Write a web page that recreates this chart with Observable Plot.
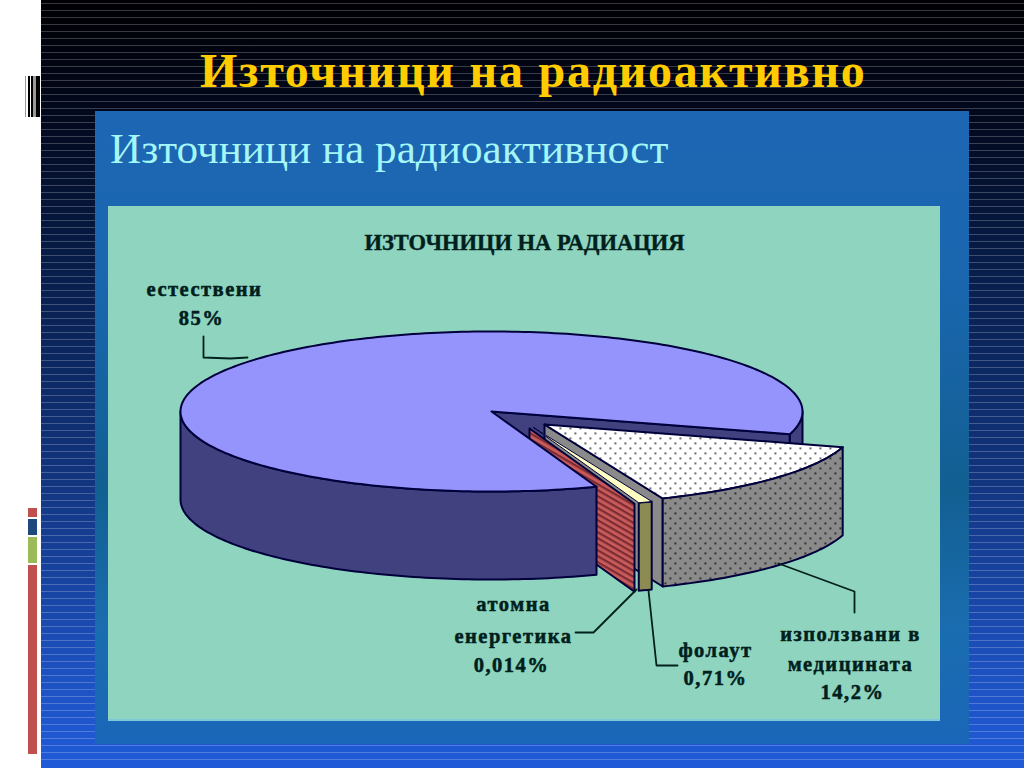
<!DOCTYPE html>
<html lang="bg"><head><meta charset="utf-8">
<script src="https://cdn.jsdelivr.net/npm/d3@7"></script>
<script src="https://cdn.jsdelivr.net/npm/@observablehq/plot@0.6"></script>
<style>
html,body{margin:0;padding:0;background:#fff;overflow:hidden}
#page{position:relative;width:1024px;height:768px;overflow:hidden;background:#fff;font-family:"Liberation Serif",serif}
#page>div{position:absolute}
#bg{left:41px;top:0;width:983px;height:768px;background:linear-gradient(#000003 0,#02081c 110px,#071c48 260px,#12357f 480px,#1d52c2 680px,#205ad8 768px)}
#stripes{left:41px;top:0;width:983px;height:768px;background:repeating-linear-gradient(to bottom,rgba(255,255,255,0) 0,rgba(255,255,255,0) 6px,rgba(255,255,255,.22) 6px,rgba(255,255,255,.22) 7px);background-position:0 -3px}
#panel{left:95px;top:111px;width:874px;height:633px;background:linear-gradient(#1d66b4 0,#1a66ae 180px,#125f92 380px,#1a6db0 520px,#1a66b8 633px)}
#inner{left:108px;top:206px;width:832px;height:513px;background:#8fd4bf;border-bottom:2px solid #7fc8dc}
#t1{left:200px;top:41px;font-weight:bold;font-size:48px;line-height:60px;letter-spacing:1.75px;color:#ffcc00;white-space:nowrap}
#t2{left:110px;top:124px;font-size:43.2px;line-height:50px;color:#a5f6f6;white-space:nowrap}
#barcode{left:25px;top:76px;width:15px;height:41px;background:linear-gradient(to right,#999 0 1px,#fff 1px 3px,#000 3px 5px,#fff 5px 6px,#000 6px 8px,#999 8px 11px,#000 11px 15px)}
.acc{left:28px;width:9px}
#chart{left:108px;top:206px}
.lbl{letter-spacing:1.5px}
.ttl{letter-spacing:0}
</style></head><body>
<div id="page">
<div id="bg"></div><div id="stripes"></div>
<div id="barcode"></div>
<div class="acc" style="top:508px;height:9px;background:#c0504d"></div>
<div class="acc" style="top:519px;height:16px;background:#1f497d"></div>
<div class="acc" style="top:537px;height:26px;background:#9bbb59"></div>
<div class="acc" style="top:565px;height:189px;background:#c0504d"></div>
<div id="panel"></div>
<div id="t1">Източници на радиоактивно</div>
<div id="t2">Източници на радиоактивност</div>
<div id="inner"></div>
<div id="chart"></div>
</div>
<script>
// ---- data
const sliceNames  = ["използвани в медицината", "фолаут", "атомна енергетика", "естествени"];
const sliceValues = [14.2, 0.71, 0.014, 85];
const chartTitle  = "ИЗТОЧНИЦИ НА РАДИАЦИЯ";
const labelLines  = ["естествени","85%","атомна","енергетика","0,014%","фолаут","0,71%","използвани в","медицината","14,2%"];
const labelX      = [204,201,513,513,511,715,715,850,850,852];
const labelY      = [289,318,604,636,665,650,678,634,664,692];
const leaderNatural  = [[203,336],[203,357],[230,358],[247,357]];
const leaderAtomic   = [[636,589],[593,632],[575,632]];
const leaderFallout  = [[648,590],[656,665],[677,665]];
const leaderMedicine = [[778,563],[854,591],[854,612]];

// ---- pie layout (3-D projection parameters)
const rx = 311, ry = 80, depth = 88, startDeg = 16.5;
const centres = [[544,424],[533,427],[529,428],[491,411]]; // exploded slice centres
const outline = "#00003c";

const arcs = d3.pie().sort(null).startAngle(startDeg*Math.PI/180).endAngle((startDeg+360)*Math.PI/180)(sliceValues);
const pt = (i,t,dz=0)=>({x:centres[i][0]+rx*Math.cos(t), y:centres[i][1]+ry*Math.sin(t)+dz});
const ctr = (i,dz=0)=>({x:centres[i][0], y:centres[i][1]+dz});
const arcPts = (i,a,b,dz=0)=>{const n=Math.max(2,Math.ceil(Math.abs(b-a)/0.02));return d3.range(n+1).map(k=>pt(i,a+(b-a)*k/n,dz));};
const topFace = i=>[ctr(i),...arcPts(i,arcs[i].startAngle,arcs[i].endAngle),ctr(i)];
const side = (i,a,b)=>{const u=arcPts(i,a,b),l=arcPts(i,a,b,depth).reverse();return [...u,...l,u[0]];};
const radial = (i,t)=>[ctr(i),pt(i,t),pt(i,t,depth),ctr(i,depth),ctr(i)];
const face = (pts,fill,sw=2)=>Plot.line(pts,{x:"x",y:"y",fill,stroke:outline,strokeWidth:sw});
const M=0,F=1,A=2,N=3, tau=2*Math.PI;
const natS=arcs[N].startAngle, natE=arcs[N].endAngle;
const leader = p=>Plot.line(p,{x:d=>d[0],y:d=>d[1],stroke:"#00201c",strokeWidth:1.8});
const defs = ()=>{
  const s=d3.create("svg:g");
  s.html(`<defs>
   <pattern id="pWhite" width="10" height="10" patternUnits="userSpaceOnUse"><rect width="10" height="10" fill="#fff"/><rect x="1" y="1" width="1.7" height="1.7" fill="#333"/><rect x="6" y="6" width="1.7" height="1.7" fill="#333"/></pattern>
   <pattern id="pGray" width="10" height="10" patternUnits="userSpaceOnUse"><rect width="10" height="10" fill="#8a8a8a"/><rect x="1" y="1" width="1.7" height="1.7" fill="#111"/><rect x="6" y="6" width="1.7" height="1.7" fill="#111"/></pattern>
   <pattern id="pRed" width="6" height="6" patternUnits="userSpaceOnUse" patternTransform="skewY(30)"><rect width="6" height="6" fill="#c85a5a"/><rect width="6" height="2.5" fill="#7a2c34"/></pattern>
  </defs>`);
  return s.node();
};

const marks = [
  defs,
  face(side(N,0,natE-tau),"#41417f"),
  face(radial(N,natE),"#41417f"),
  face(radial(M,arcs[M].endAngle),"#8a8a8a"),
  face(topFace(M),"url(#pWhite)"),
  face(side(M,arcs[M].startAngle,arcs[M].endAngle),"url(#pGray)"),
  face(side(F,arcs[F].startAngle,arcs[F].endAngle),"#8c8c52"),
  face(topFace(F),"#ffffc4",1),
  face(radial(A,arcs[A].endAngle),"url(#pRed)"),
  face(side(N,natS,Math.PI),"#41417f"),
  face(topFace(N),"#9494fc"),
  leader(leaderNatural),leader(leaderAtomic),leader(leaderFallout),leader(leaderMedicine),
  Plot.text(labelLines,{x:(d,i)=>labelX[i],y:(d,i)=>labelY[i],text:d=>d,fontFamily:"Liberation Serif",fontWeight:"bold",fontSize:20.5,fill:"#00201c",stroke:"#00201c",strokeWidth:.5,className:"lbl"}),
  Plot.text([chartTitle],{x:()=>524,y:()=>242,text:d=>d,fontFamily:"Liberation Serif",fontWeight:"bold",fontSize:22.5,fill:"#00201c",stroke:"#00201c",strokeWidth:.4,className:"ttl"})
];
const plot = Plot.plot({
  width:832,height:514,margin:0,
  x:{domain:[108,940],range:[0,832],axis:null},
  y:{domain:[206,720],range:[0,514],axis:null},
  style:{background:"transparent",overflow:"visible"},
  marks
});
document.getElementById("chart").append(plot);
</script>
</body></html>
